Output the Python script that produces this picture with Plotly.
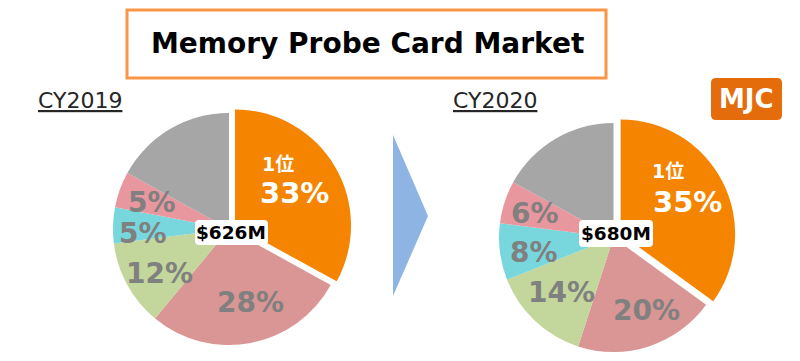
import plotly.graph_objects as go

W, H = 800, 361

# ---- data ----
companies = ["MJC", "Company B", "Company C", "Company D", "Company E", "Others"]
share_2019 = [33, 28, 12, 5, 5, 17]
share_2020 = [35, 20, 14, 8, 6, 17]
years = ["CY2019", "CY2020"]
totals = ["$626M", "$680M"]
rank_label = "1位"
title_text = "Memory Probe Card Market"
badge_text = "MJC"

colors = ["#F58400", "#D99694", "#C3D69B", "#78D7DD", "#E9979F", "#A6A6A6"]
FONT = "DejaVu Sans, Noto Sans CJK JP, sans-serif"


def px(x, y):
    return x / W, 1 - y / H


def dom(x0, x1, y0, y1):
    return dict(x=[x0 / W, x1 / W], y=[1 - y1 / H, 1 - y0 / H])


def pp(x, y):
    a, b = px(x, y)
    return f"{a:.5f},{b:.5f}"


def rrect(x0, y0, x1, y1, r):
    return (f"M {pp(x0 + r, y0)} L {pp(x1 - r, y0)} Q {pp(x1, y0)} {pp(x1, y0 + r)} "
            f"L {pp(x1, y1 - r)} Q {pp(x1, y1)} {pp(x1 - r, y1)} L {pp(x0 + r, y1)} "
            f"Q {pp(x0, y1)} {pp(x0, y1 - r)} L {pp(x0, y0 + r)} Q {pp(x0, y0)} {pp(x0 + r, y0)} Z")


fig = go.Figure()

pie_common = dict(
    labels=companies, sort=False, direction="clockwise", rotation=0,
    textinfo="none", hoverinfo="label+percent",
    marker=dict(colors=colors, line=dict(color="white", width=0)),
    showlegend=False,
)
fig.add_trace(go.Pie(values=share_2019, pull=[0.06, 0, 0, 0, 0, 0],
                     domain=dom(106, 352, 106, 352), name=years[0], **pie_common))
fig.add_trace(go.Pie(values=share_2020, pull=[0.07, 0, 0, 0, 0, 0],
                     domain=dom(491, 736, 115, 360), name=years[1], **pie_common))

shapes = []
x0, y0 = px(127, 10)
x1, y1 = px(606, 78)
shapes.append(dict(type="rect", xref="paper", yref="paper", x0=x0, y0=y0, x1=x1, y1=y1,
                   line=dict(color="#F79646", width=3), fillcolor="white", layer="below"))
shapes.append(dict(type="path", xref="paper", yref="paper",
                   path=f"M {pp(393, 135)} L {pp(428, 216)} L {pp(393, 296)} Z",
                   fillcolor="#8DB4E2", line=dict(width=0)))
shapes.append(dict(type="path", xref="paper", yref="paper", path=rrect(711, 78, 782, 120, 5),
                   fillcolor="#E46C0A", line=dict(width=0)))
shapes.append(dict(type="path", xref="paper", yref="paper", path=rrect(195, 220, 268, 245, 4),
                   fillcolor="white", line=dict(width=0)))
shapes.append(dict(type="path", xref="paper", yref="paper", path=rrect(579, 220, 653, 247, 4),
                   fillcolor="white", line=dict(width=0)))

ann = []


def text(x, y, s, size, color, bold=True):
    ax, ay = px(x, y)
    ann.append(dict(x=ax, y=ay, xref="paper", yref="paper", text=(f"<b>{s}</b>" if bold else s),
                    showarrow=False, xanchor="center", yanchor="middle",
                    font=dict(family=FONT, size=size, color=color)))


text(367, 44, title_text, 28, "black")
text(80, 100, f"<u>{years[0]}</u>", 22, "#262626", bold=False)
text(495, 100, f"<u>{years[1]}</u>", 22, "#262626", bold=False)
text(746, 99, badge_text, 26, "white")

pos19 = [(294, 193), (251, 302), (159, 273), (143, 233), (152, 202)]
for i, ((x, y), v) in enumerate(zip(pos19, share_2019[:5])):
    c = "white" if i == 0 else "#808080"
    text(x, y, f"{v}%", 29 if i == 0 else 28, c)
text(278, 164, rank_label, 19, "white")
text(231, 232, totals[0], 18.5, "black")

pos20 = [(687, 202), (646, 310), (561, 292), (534, 252), (535, 213)]
for i, ((x, y), v) in enumerate(zip(pos20, share_2020[:5])):
    c = "white" if i == 0 else "#808080"
    text(x, y, f"{v}%", 29 if i == 0 else 28, c)
text(668, 171, rank_label, 19, "white")
text(616, 233, totals[1], 18.5, "black")

fig.update_layout(
    width=W, height=H, margin=dict(l=0, r=0, t=0, b=0),
    paper_bgcolor="white", plot_bgcolor="white",
    shapes=shapes, annotations=ann,
)

fig.write_html("out.html", config={"displayModeBar": False},
               post_script="document.body.style.margin='0';")
